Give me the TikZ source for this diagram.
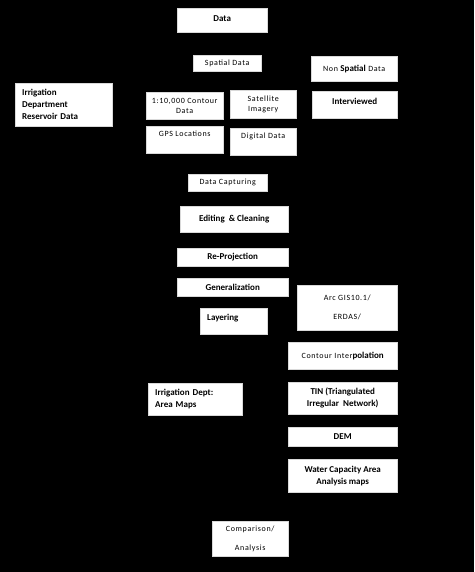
\documentclass[tikz,border=0pt]{standalone}
\usepackage{fontspec}
\setmainfont{Carlito}
\newfontfamily\spacedfont{Carlito}[LetterSpace=8]
\begin{document}
\begin{tikzpicture}[
	x=1pt, y=-1pt,
	flowbox/.style={fill=white, draw=white!85!black, line width=0.4pt,
		inner sep=2pt, anchor=north west, align=center,
		font=\spacedfont\fontsize{8}{10}\selectfont},
	strong/.style={font=\fontsize{9}{12}\selectfont\bfseries},
]
\useasboundingbox[fill=black] (0,0) rectangle (474,572);
% #1: extra options, #2: name, #3: top-left corner, #4: width, #5: height.
\def\flowbox[#1](#2)#3#4#5#6{
	\node[flowbox, minimum width=#4, minimum height=#5, #1] (#2) at (#3) {#6};
}
\def\boldpart#1{{\normalfont\bfseries\fontsize{9}{10}\selectfont #1}}
	\flowbox[strong, text depth=4pt](data){177,8}{90}{24}{Data}
	\flowbox[](spatial){193,55}{68}{16}{Spatial Data}
	\flowbox[](nonspatial){311,56}{86}{25}{Non \boldpart{Spatial} Data}
	\flowbox[strong, text depth=6pt](interview){312,91}{85}{27}{Interviewed}
	\flowbox[strong, align=left, text width=83, inner xsep=7](reservoir)
		{15,83}{97}{43}{Irrigation\\Department\\Reservoir Data}

	\flowbox[](contour){146,92}{77}{27}{1:10,000 Contour\\Data}
	\flowbox[](satellite){230,90}{66}{28}{Satellite\\Imagery}
	\flowbox[text depth=11pt](gps){146,126}{77}{27}{GPS Locations}
	\flowbox[text depth=11pt](digital){230,128}{66}{27}{Digital Data}

	\flowbox[](capture){188,174}{79}{17}{Data Capturing}
	\flowbox[strong](editing){180,206}{108}{26}{Editing \ \& Cleaning}
	\flowbox[strong](reproj){177,248}{111}{18}{Re-Projection}
	\flowbox[strong](general){177,278}{111}{18}{Generalization}
	\flowbox[strong, align=left, text width=53, inner xsep=7, text depth=8pt](layer)
		{200,308}{67}{26}{Layering}

	\flowbox[](software){297,285}{100}{45}{Arc GIS10.1/\\[9pt]ERDAS/}
	\flowbox[](interp){288,342}{109}{27}{Contour Inter\boldpart{polation}}
	\flowbox[strong, align=left, text width=80, inner xsep=7](areamaps)
		{148,383}{94}{32}{Irrigation Dept:\\Area Maps}
	\flowbox[strong](tin){288,382}{109}{32}{TIN (Triangulated\\Irregular \ Network)}
	\flowbox[strong](dem){288,427}{109}{19}{DEM}
	\flowbox[strong](water){288,459}{109}{33}{Water Capacity Area\\Analysis maps}

	\flowbox[](compare){212,521}{76}{35}{Comparison/\\[9pt]Analysis}
\end{tikzpicture}
\end{document}
